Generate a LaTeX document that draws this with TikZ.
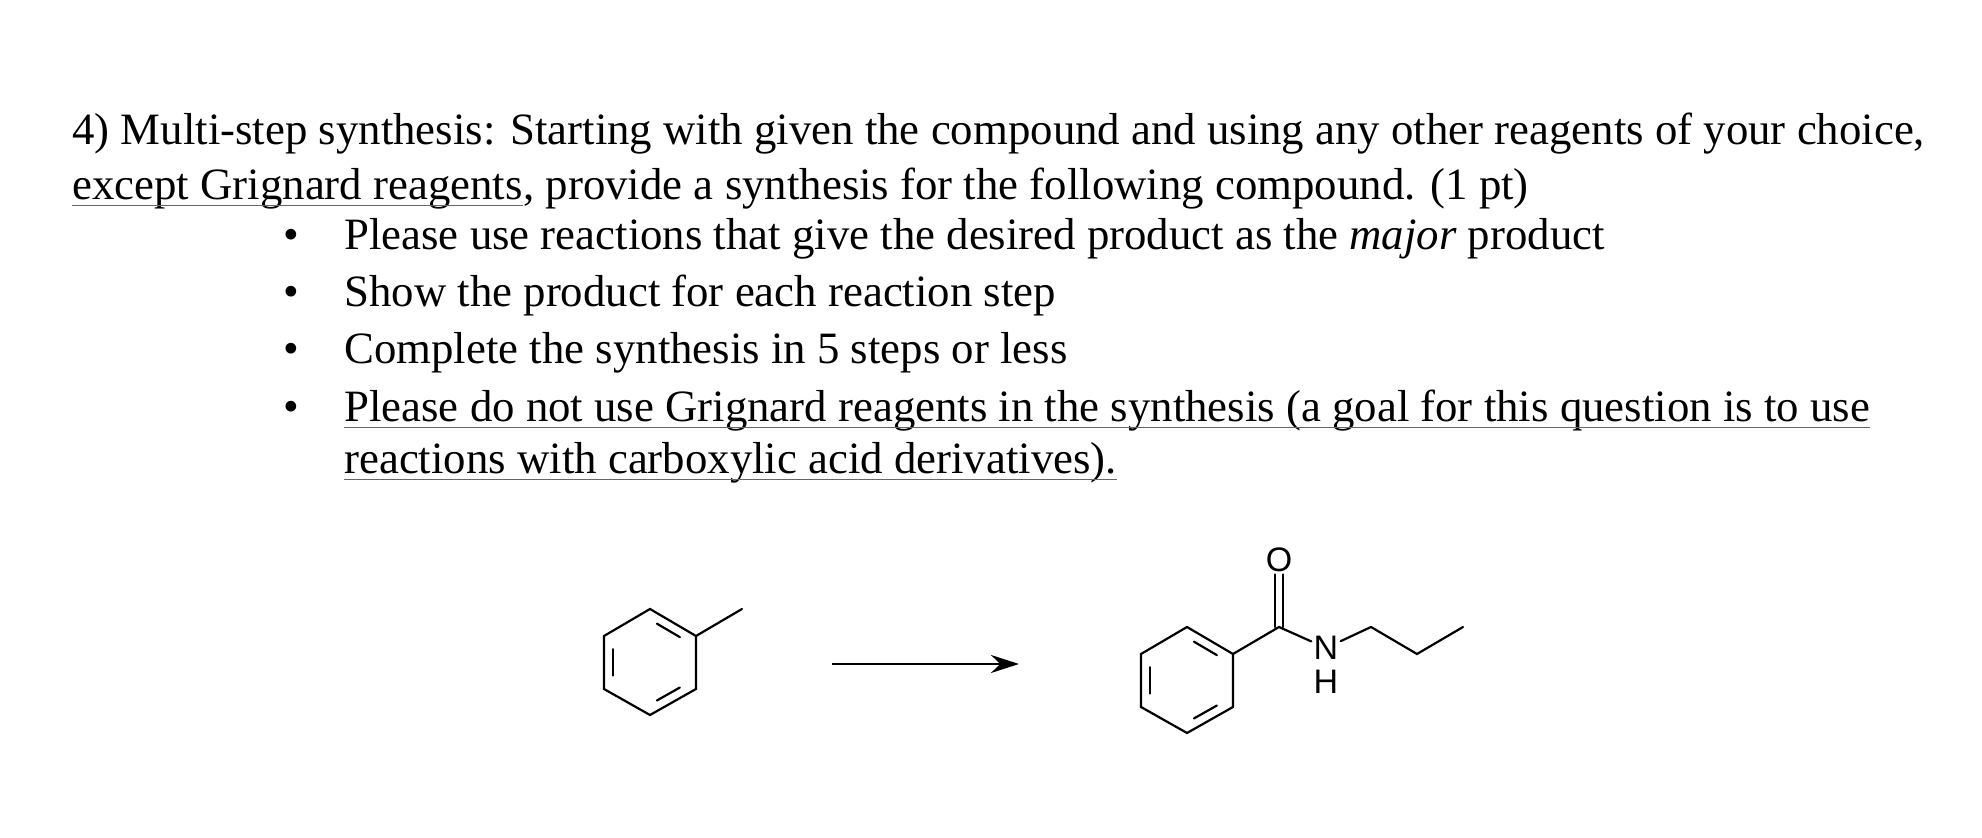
\documentclass[tikz,border=0pt]{standalone}
\usepackage{fontspec}
\setmainfont{Liberation Serif}
\newfontfamily\atomfont{Liberation Sans}
\usetikzlibrary{calc,arrows.meta}
\begin{document}
\begin{tikzpicture}[x=0.5pt,y=-0.5pt,
  txt/.style={anchor=base west,inner sep=0pt,font=\fontsize{22.4}{27}\selectfont},
  ul/.style={line width=0.5pt,black!60},
  bond/.style={line width=1.1pt,line cap=round},
  atom/.style={inner sep=1pt,font=\atomfont\fontsize{17}{19}\selectfont}]
\useasboundingbox (0,0) rectangle (1982,838);
% text
\node[txt] (l1) at (72,145) {4) Multi-step synthesis: Starting with given the compound and using any other reagents of your choice,};
\node[txt] (l2a) at (72,200) {except Grignard reagents};
\node[txt] (l2b) at (l2a.base east) {, provide a synthesis for the following compound. (1 pt)};
\draw[ul] ($(l2a.base west)+(0,6)$) -- ($(l2a.base east)+(0,6)$);
\foreach \y/\n in {250/b1,307/b2,364/b3,422/b4}{\node[txt] (\n) at (283,\y) {\textbullet};}
\node[txt] (t1) at (344,250) {Please use reactions that give the desired product as the \textit{major} product};
\node[txt] (t2) at (344,307) {Show the product for each reaction step};
\node[txt] (t3) at (344,364) {Complete the synthesis in 5 steps or less};
\node[txt] (t4) at (344,422) {Please do not use Grignard reagents in the synthesis (a goal for this question is to use};
\node[txt] (t5) at (344,474) {reactions with carboxylic acid derivatives).};
\draw[ul] ($(t4.base west)+(0,6)$) -- ($(t4.base east)+(0,6)$);
\draw[ul] ($(t5.base west)+(0,6)$) -- ($(t5.base east)+(0,6)$);
% toluene
\coordinate (ac) at (650,662);
\coordinate (aT) at (650,609); \coordinate (aUR) at (696,636); \coordinate (aLR) at (696,689);
\coordinate (aB) at (650,715); \coordinate (aLL) at (604,689); \coordinate (aUL) at (604,636);
\coordinate (aMe) at (742,609);
\draw[bond] (aT)--(aUR)--(aLR)--(aB)--(aLL)--(aUL)--cycle;
\draw[bond] (aUR)--(aMe);
\draw[bond,shorten <=4pt,shorten >=4pt] ($(ac)!0.8!(aT)$)--($(ac)!0.8!(aUR)$);
\draw[bond,shorten <=4pt,shorten >=4pt] ($(ac)!0.8!(aLR)$)--($(ac)!0.8!(aB)$);
\draw[bond,shorten <=4pt,shorten >=4pt] ($(ac)!0.8!(aLL)$)--($(ac)!0.8!(aUL)$);
% arrow
\coordinate (r1) at (832,664); \coordinate (r2) at (1019,664);
\draw[line width=1.1pt,-{Stealth[length=14pt,width=9pt]}] (r1)--(r2);
% product
\coordinate (bc) at (1187,680);
\coordinate (bT) at (1187,627); \coordinate (bUR) at (1233,654); \coordinate (bLR) at (1233,707);
\coordinate (bB) at (1187,733); \coordinate (bLL) at (1141,707); \coordinate (bUL) at (1141,654);
\coordinate (bC) at (1279,627);
\node[atom] (O) at (1279,560) {O};
\node[atom] (N) at (1326,648) {N};
\node[atom] (H) at (1326,682) {H};
\coordinate (c1) at (1371,627); \coordinate (c2) at (1417,654); \coordinate (c3) at (1463,627);
\draw[bond] (bT)--(bUR)--(bLR)--(bB)--(bLL)--(bUL)--cycle;
\draw[bond,shorten <=4pt,shorten >=4pt] ($(bc)!0.8!(bT)$)--($(bc)!0.8!(bUR)$);
\draw[bond,shorten <=4pt,shorten >=4pt] ($(bc)!0.8!(bLR)$)--($(bc)!0.8!(bB)$);
\draw[bond,shorten <=4pt,shorten >=4pt] ($(bc)!0.8!(bLL)$)--($(bc)!0.8!(bUL)$);
\draw[bond] (bUR)--(bC);
\draw[bond] ($(bC)+(-4,0)$)--($(O.south)+(-4,0)$);
\draw[bond] ($(bC)+(4,0)$)--($(O.south)+(4,0)$);
\draw[bond] (bC)--(N);
\draw[bond] (N)--(c1)--(c2)--(c3);
\end{tikzpicture}
\end{document}
